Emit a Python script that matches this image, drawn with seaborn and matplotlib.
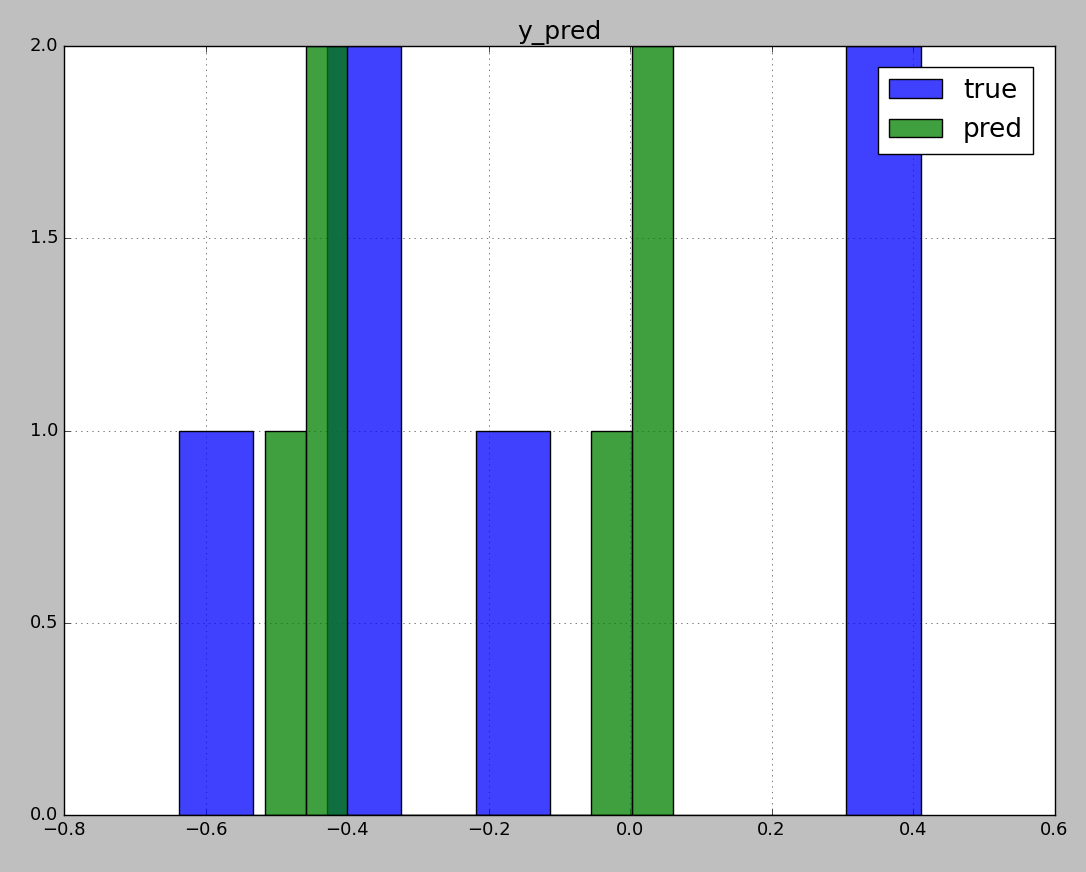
import matplotlib
matplotlib.use("Agg")
import matplotlib.pyplot as plt
import seaborn as sns

true_vals = [-0.6376, -0.40, -0.35, -0.17, 0.33, 0.4106]
pred_vals = [-0.516, -0.44, -0.42, -0.03, 0.03, 0.0603]

plt.style.use("classic")
fig = plt.figure(figsize=(10.86, 8.72), dpi=100, facecolor="#bfbfbf")
ax = fig.add_axes([0.059, 0.065, 0.912, 0.882])
sns.histplot(x=true_vals, bins=10, stat="count", color="#0000ff", alpha=0.75,
             edgecolor="black", linewidth=1, ax=ax, label="true")
sns.histplot(x=pred_vals, bins=10, stat="count", color="#008000", alpha=0.75,
             edgecolor="black", linewidth=1, ax=ax, label="pred")
ax.set_xlim(-0.8, 0.6)
ax.set_ylim(0, 2.0)
ax.set_ylabel("")
ax.set_xlabel("")
ax.grid(True, linestyle=":", color="#444444")
ax.set_axisbelow(True)
ax.set_title("y_pred", fontsize=18)
ax.tick_params(labelsize=13)
ax.legend(loc="upper right", fontsize=19, borderaxespad=0.8)
fig.savefig("out.png", dpi=100, facecolor=fig.get_facecolor())
